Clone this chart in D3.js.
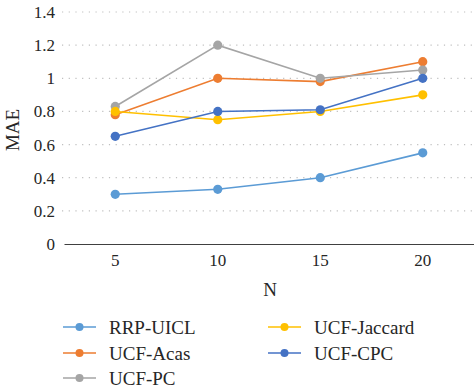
<!DOCTYPE html>
<html><head><meta charset="utf-8">
<script src="https://cdn.jsdelivr.net/npm/d3@7"></script>
<style>body{margin:0;background:#fff}svg{display:block}svg text{font-family:"Liberation Serif","DejaVu Serif","Times New Roman",Times,serif !important}</style>
</head><body>
<script>
const categories = [5, 10, 15, 20];
const seriesNames = ["RRP-UICL", "UCF-Acas", "UCF-PC", "UCF-Jaccard", "UCF-CPC"];
const rrpUicl = [0.30, 0.33, 0.40, 0.55];
const ucfAcas = [0.78, 1.00, 0.98, 1.10];
const ucfPc = [0.83, 1.20, 1.00, 1.05];
const ucfJaccard = [0.80, 0.75, 0.80, 0.90];
const ucfCpc = [0.65, 0.80, 0.81, 1.00];
const yTicks = [0, 0.2, 0.4, 0.6, 0.8, 1, 1.2, 1.4];
const colors = ["#5B9BD5", "#ED7D31", "#A5A5A5", "#FFC000", "#4472C4"];

const series = [rrpUicl, ucfAcas, ucfPc, ucfJaccard, ucfCpc].map((v, i) => ({name: seriesNames[i], values: v, color: colors[i]}));

const W = 474, H = 391;
const svg = d3.select("body").append("svg").attr("width", W).attr("height", H);

const x = d3.scaleBand().domain(categories).range([64, 474]);
const y = d3.scaleLinear().domain([0, 1.4]).range([244, 12]);

// gridlines
svg.append("g").selectAll("line").data(yTicks.filter(d => d > 0)).join("line")
  .attr("x1", 62).attr("x2", 474).attr("y1", d => y(d)).attr("y2", d => y(d))
  .attr("stroke", "#bfbfbf").attr("stroke-width", 1.2).attr("stroke-dasharray", "1.2,5.5");

// y axis labels
const yAxis = d3.axisLeft(y).tickValues(yTicks).tickSize(0).tickPadding(0).tickFormat(d3.format("~g"));
const yg = svg.append("g").attr("transform", "translate(55,0)").call(yAxis);
yg.select(".domain").remove();
yg.selectAll("text").attr("font-size", 17).attr("fill", "#262626");

// x axis
const xAxis = d3.axisBottom(x).tickSize(0).tickPadding(10);
const xg = svg.append("g").attr("transform", `translate(0,${y(0)})`).call(xAxis);
xg.select(".domain").attr("stroke", "#404040").attr("stroke-width", 1.2);
xg.selectAll("text").attr("font-size", 17).attr("fill", "#262626");

// axis titles
svg.append("text").attr("x", 270).attr("y", 296).attr("text-anchor", "middle")
  .attr("font-size", 19).attr("fill", "#262626").text("N");
svg.append("text").attr("transform", "translate(19,130) rotate(-90)").attr("text-anchor", "middle")
  .attr("font-size", 19).attr("fill", "#262626").text("MAE");

// lines & markers
const line = d3.line().x((d, i) => x(categories[i]) + x.bandwidth() / 2).y(d => y(d));
series.forEach(s => {
  const g = svg.append("g");
  g.append("path").attr("d", line(s.values)).attr("fill", "none").attr("stroke", s.color).attr("stroke-width", 1.6);
  g.selectAll("circle").data(s.values).join("circle")
    .attr("cx", (d, i) => x(categories[i]) + x.bandwidth() / 2).attr("cy", d => y(d))
    .attr("r", 4.6).attr("fill", s.color);
});

// legend
const legendPos = [[63, 327], [63, 353], [63, 378], [268, 327], [268, 353]];
series.forEach((s, i) => {
  const [lx, ly] = legendPos[i];
  const g = svg.append("g").attr("transform", `translate(${lx},${ly})`);
  g.append("line").attr("x1", 0).attr("x2", 33).attr("y1", 0).attr("y2", 0).attr("stroke", s.color).attr("stroke-width", 1.6);
  g.append("circle").attr("cx", 16.5).attr("cy", 0).attr("r", 4).attr("fill", s.color);
  g.append("text").attr("x", 46).attr("y", 6.5).attr("font-size", 19).attr("fill", "#262626").text(s.name);
});
</script>
</body></html>
